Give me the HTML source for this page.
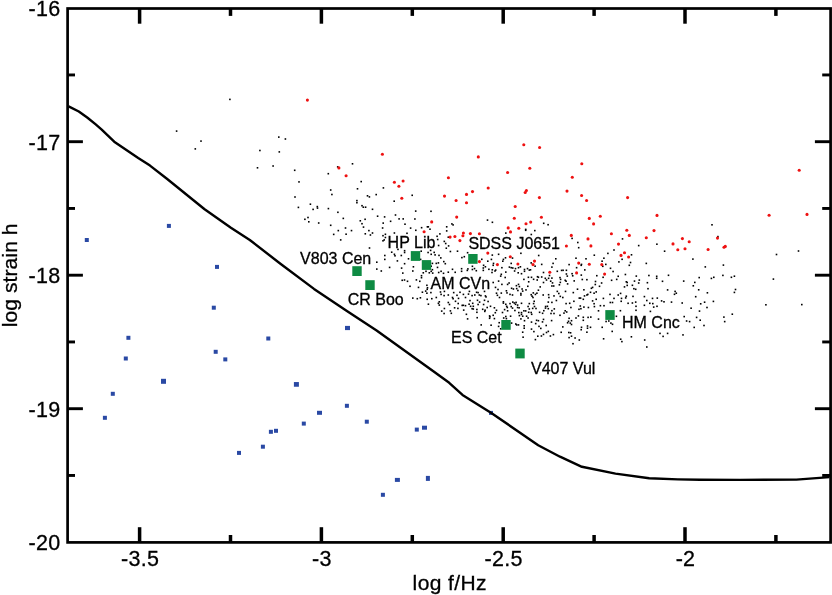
<!DOCTYPE html>
<html><head><meta charset="utf-8"><style>
html,body{margin:0;padding:0;background:#fff;}
body{width:832px;height:595px;overflow:hidden;}
svg{display:block;font-family:"Liberation Sans",Arial,sans-serif;}
text{fill:#000;stroke:#000;stroke-width:0.3px;}
</style></head><body>
<svg width="832" height="595" viewBox="0 0 832 595">
<rect x="67.6" y="8.5" width="763.00" height="533.90" fill="none" stroke="#000" stroke-width="2.7"/>
<line x1="139.60" y1="542.4" x2="139.60" y2="527.20" stroke="#000" stroke-width="3.5"/>
<line x1="139.60" y1="8.5" x2="139.60" y2="23.70" stroke="#000" stroke-width="3.5"/>
<line x1="230.50" y1="542.4" x2="230.50" y2="535.00" stroke="#000" stroke-width="3.5"/>
<line x1="230.50" y1="8.5" x2="230.50" y2="15.90" stroke="#000" stroke-width="3.5"/>
<line x1="321.40" y1="542.4" x2="321.40" y2="527.20" stroke="#000" stroke-width="3.5"/>
<line x1="321.40" y1="8.5" x2="321.40" y2="23.70" stroke="#000" stroke-width="3.5"/>
<line x1="412.30" y1="542.4" x2="412.30" y2="535.00" stroke="#000" stroke-width="3.5"/>
<line x1="412.30" y1="8.5" x2="412.30" y2="15.90" stroke="#000" stroke-width="3.5"/>
<line x1="503.20" y1="542.4" x2="503.20" y2="527.20" stroke="#000" stroke-width="3.5"/>
<line x1="503.20" y1="8.5" x2="503.20" y2="23.70" stroke="#000" stroke-width="3.5"/>
<line x1="594.10" y1="542.4" x2="594.10" y2="535.00" stroke="#000" stroke-width="3.5"/>
<line x1="594.10" y1="8.5" x2="594.10" y2="15.90" stroke="#000" stroke-width="3.5"/>
<line x1="685.00" y1="542.4" x2="685.00" y2="527.20" stroke="#000" stroke-width="3.5"/>
<line x1="685.00" y1="8.5" x2="685.00" y2="23.70" stroke="#000" stroke-width="3.5"/>
<line x1="775.90" y1="542.4" x2="775.90" y2="535.00" stroke="#000" stroke-width="3.5"/>
<line x1="775.90" y1="8.5" x2="775.90" y2="15.90" stroke="#000" stroke-width="3.5"/>
<line x1="67.6" y1="74.95" x2="75.00" y2="74.95" stroke="#000" stroke-width="2.9"/>
<line x1="830.6" y1="74.95" x2="822.20" y2="74.95" stroke="#000" stroke-width="2.9"/>
<line x1="67.6" y1="141.70" x2="82.90" y2="141.70" stroke="#000" stroke-width="2.9"/>
<line x1="830.6" y1="141.70" x2="814.90" y2="141.70" stroke="#000" stroke-width="2.9"/>
<line x1="67.6" y1="208.45" x2="75.00" y2="208.45" stroke="#000" stroke-width="2.9"/>
<line x1="830.6" y1="208.45" x2="822.20" y2="208.45" stroke="#000" stroke-width="2.9"/>
<line x1="67.6" y1="275.20" x2="82.90" y2="275.20" stroke="#000" stroke-width="2.9"/>
<line x1="830.6" y1="275.20" x2="814.90" y2="275.20" stroke="#000" stroke-width="2.9"/>
<line x1="67.6" y1="341.95" x2="75.00" y2="341.95" stroke="#000" stroke-width="2.9"/>
<line x1="830.6" y1="341.95" x2="822.20" y2="341.95" stroke="#000" stroke-width="2.9"/>
<line x1="67.6" y1="408.70" x2="82.90" y2="408.70" stroke="#000" stroke-width="2.9"/>
<line x1="830.6" y1="408.70" x2="814.90" y2="408.70" stroke="#000" stroke-width="2.9"/>
<line x1="67.6" y1="475.45" x2="75.00" y2="475.45" stroke="#000" stroke-width="2.9"/>
<line x1="830.6" y1="475.45" x2="822.20" y2="475.45" stroke="#000" stroke-width="2.9"/>
<text x="60.6" y="16.30" text-anchor="end" font-size="21.5" letter-spacing="0.3">-16</text>
<text x="60.6" y="149.80" text-anchor="end" font-size="21.5" letter-spacing="0.3">-17</text>
<text x="60.6" y="283.30" text-anchor="end" font-size="21.5" letter-spacing="0.3">-18</text>
<text x="60.6" y="416.80" text-anchor="end" font-size="21.5" letter-spacing="0.3">-19</text>
<text x="60.6" y="550.30" text-anchor="end" font-size="21.5" letter-spacing="0.3">-20</text>
<text x="140.10" y="566" text-anchor="middle" font-size="21.5" letter-spacing="0.3">-3.5</text>
<text x="321.90" y="566" text-anchor="middle" font-size="21.5" letter-spacing="0.3">-3</text>
<text x="503.70" y="566" text-anchor="middle" font-size="21.5" letter-spacing="0.3">-2.5</text>
<text x="685.50" y="566" text-anchor="middle" font-size="21.5" letter-spacing="0.3">-2</text>
<text x="412.6" y="590" font-size="21" letter-spacing="0.38">log f/Hz</text>
<text transform="translate(17,327.3) rotate(-90)" font-size="21" letter-spacing="0.1">log strain h</text>
<rect x="229.10" y="98.60" width="1.6" height="1.6" fill="#000"/>
<rect x="200.20" y="140.30" width="1.6" height="1.6" fill="#000"/>
<rect x="194.50" y="148.10" width="1.6" height="1.6" fill="#000"/>
<rect x="259.10" y="149.70" width="1.6" height="1.6" fill="#000"/>
<rect x="278.00" y="136.30" width="1.6" height="1.6" fill="#000"/>
<rect x="278.50" y="151.10" width="1.6" height="1.6" fill="#000"/>
<rect x="175.80" y="130.30" width="1.6" height="1.6" fill="#000"/>
<rect x="284.60" y="138.20" width="1.6" height="1.6" fill="#000"/>
<rect x="256.70" y="167.00" width="1.6" height="1.6" fill="#000"/>
<rect x="272.30" y="165.20" width="1.6" height="1.6" fill="#000"/>
<rect x="351.70" y="163.00" width="1.6" height="1.6" fill="#000"/>
<rect x="293.90" y="169.50" width="1.6" height="1.6" fill="#000"/>
<rect x="327.50" y="172.90" width="1.6" height="1.6" fill="#000"/>
<rect x="298.20" y="181.10" width="1.6" height="1.6" fill="#000"/>
<rect x="360.40" y="180.80" width="1.6" height="1.6" fill="#000"/>
<rect x="356.70" y="188.00" width="1.6" height="1.6" fill="#000"/>
<rect x="329.90" y="189.20" width="1.6" height="1.6" fill="#000"/>
<rect x="331.10" y="193.70" width="1.6" height="1.6" fill="#000"/>
<rect x="294.20" y="196.20" width="1.6" height="1.6" fill="#000"/>
<rect x="366.70" y="195.00" width="1.6" height="1.6" fill="#000"/>
<rect x="368.60" y="196.10" width="1.6" height="1.6" fill="#000"/>
<rect x="375.40" y="193.80" width="1.6" height="1.6" fill="#000"/>
<rect x="356.10" y="199.80" width="1.6" height="1.6" fill="#000"/>
<rect x="356.10" y="201.90" width="1.6" height="1.6" fill="#000"/>
<rect x="309.60" y="203.40" width="1.6" height="1.6" fill="#000"/>
<rect x="297.60" y="206.60" width="1.6" height="1.6" fill="#000"/>
<rect x="316.50" y="205.80" width="1.6" height="1.6" fill="#000"/>
<rect x="316.70" y="207.30" width="1.6" height="1.6" fill="#000"/>
<rect x="312.30" y="208.60" width="1.6" height="1.6" fill="#000"/>
<rect x="327.60" y="207.80" width="1.6" height="1.6" fill="#000"/>
<rect x="361.20" y="204.90" width="1.6" height="1.6" fill="#000"/>
<rect x="362.50" y="206.40" width="1.6" height="1.6" fill="#000"/>
<rect x="364.80" y="206.40" width="1.6" height="1.6" fill="#000"/>
<rect x="371.70" y="208.50" width="1.6" height="1.6" fill="#000"/>
<rect x="337.10" y="211.50" width="1.6" height="1.6" fill="#000"/>
<rect x="376.80" y="215.40" width="1.6" height="1.6" fill="#000"/>
<rect x="307.20" y="216.70" width="1.6" height="1.6" fill="#000"/>
<rect x="304.10" y="218.50" width="1.6" height="1.6" fill="#000"/>
<rect x="308.00" y="221.00" width="1.6" height="1.6" fill="#000"/>
<rect x="342.50" y="217.60" width="1.6" height="1.6" fill="#000"/>
<rect x="359.50" y="220.00" width="1.6" height="1.6" fill="#000"/>
<rect x="364.30" y="218.50" width="1.6" height="1.6" fill="#000"/>
<rect x="317.90" y="222.20" width="1.6" height="1.6" fill="#000"/>
<rect x="361.20" y="222.90" width="1.6" height="1.6" fill="#000"/>
<rect x="329.90" y="224.50" width="1.6" height="1.6" fill="#000"/>
<rect x="344.70" y="227.20" width="1.6" height="1.6" fill="#000"/>
<rect x="362.70" y="226.30" width="1.6" height="1.6" fill="#000"/>
<rect x="336.90" y="166.10" width="1.6" height="1.6" fill="#000"/>
<rect x="382.60" y="187.10" width="1.6" height="1.6" fill="#000"/>
<rect x="411.40" y="194.50" width="1.6" height="1.6" fill="#000"/>
<rect x="393.40" y="200.40" width="1.6" height="1.6" fill="#000"/>
<rect x="414.90" y="210.30" width="1.6" height="1.6" fill="#000"/>
<rect x="430.20" y="210.50" width="1.6" height="1.6" fill="#000"/>
<rect x="383.80" y="216.10" width="1.6" height="1.6" fill="#000"/>
<rect x="394.70" y="214.20" width="1.6" height="1.6" fill="#000"/>
<rect x="398.30" y="218.10" width="1.6" height="1.6" fill="#000"/>
<rect x="402.40" y="218.10" width="1.6" height="1.6" fill="#000"/>
<rect x="414.10" y="218.20" width="1.6" height="1.6" fill="#000"/>
<rect x="389.80" y="220.50" width="1.6" height="1.6" fill="#000"/>
<rect x="382.40" y="222.30" width="1.6" height="1.6" fill="#000"/>
<rect x="404.20" y="223.40" width="1.6" height="1.6" fill="#000"/>
<rect x="381.80" y="227.20" width="1.6" height="1.6" fill="#000"/>
<rect x="409.80" y="227.30" width="1.6" height="1.6" fill="#000"/>
<rect x="420.80" y="226.90" width="1.6" height="1.6" fill="#000"/>
<rect x="426.60" y="226.00" width="1.6" height="1.6" fill="#000"/>
<rect x="427.50" y="226.00" width="1.6" height="1.6" fill="#000"/>
<rect x="429.20" y="228.40" width="1.6" height="1.6" fill="#000"/>
<rect x="445.90" y="226.00" width="1.6" height="1.6" fill="#000"/>
<rect x="451.10" y="223.10" width="1.6" height="1.6" fill="#000"/>
<rect x="452.30" y="224.10" width="1.6" height="1.6" fill="#000"/>
<rect x="486.70" y="219.30" width="1.6" height="1.6" fill="#000"/>
<rect x="491.60" y="221.50" width="1.6" height="1.6" fill="#000"/>
<rect x="542.90" y="222.50" width="1.6" height="1.6" fill="#000"/>
<rect x="547.30" y="223.90" width="1.6" height="1.6" fill="#000"/>
<rect x="524.90" y="228.60" width="1.6" height="1.6" fill="#000"/>
<rect x="711.20" y="224.00" width="1.6" height="1.6" fill="#000"/>
<rect x="717.10" y="235.80" width="1.6" height="1.6" fill="#000"/>
<rect x="692.10" y="258.30" width="1.6" height="1.6" fill="#000"/>
<rect x="704.50" y="266.10" width="1.6" height="1.6" fill="#000"/>
<rect x="722.60" y="264.30" width="1.6" height="1.6" fill="#000"/>
<rect x="698.40" y="276.80" width="1.6" height="1.6" fill="#000"/>
<rect x="682.90" y="280.30" width="1.6" height="1.6" fill="#000"/>
<rect x="694.00" y="281.60" width="1.6" height="1.6" fill="#000"/>
<rect x="692.50" y="285.00" width="1.6" height="1.6" fill="#000"/>
<rect x="710.60" y="277.60" width="1.6" height="1.6" fill="#000"/>
<rect x="713.00" y="276.50" width="1.6" height="1.6" fill="#000"/>
<rect x="722.10" y="274.60" width="1.6" height="1.6" fill="#000"/>
<rect x="730.60" y="276.50" width="1.6" height="1.6" fill="#000"/>
<rect x="733.60" y="275.40" width="1.6" height="1.6" fill="#000"/>
<rect x="697.90" y="289.00" width="1.6" height="1.6" fill="#000"/>
<rect x="706.60" y="292.00" width="1.6" height="1.6" fill="#000"/>
<rect x="694.90" y="295.90" width="1.6" height="1.6" fill="#000"/>
<rect x="734.70" y="288.70" width="1.6" height="1.6" fill="#000"/>
<rect x="733.60" y="291.60" width="1.6" height="1.6" fill="#000"/>
<rect x="775.70" y="253.70" width="1.6" height="1.6" fill="#000"/>
<rect x="797.70" y="250.20" width="1.6" height="1.6" fill="#000"/>
<rect x="772.60" y="278.30" width="1.6" height="1.6" fill="#000"/>
<rect x="337.50" y="229.80" width="1.6" height="1.6" fill="#000"/>
<rect x="350.70" y="229.80" width="1.6" height="1.6" fill="#000"/>
<rect x="368.10" y="229.80" width="1.6" height="1.6" fill="#000"/>
<rect x="332.90" y="233.60" width="1.6" height="1.6" fill="#000"/>
<rect x="345.30" y="233.40" width="1.6" height="1.6" fill="#000"/>
<rect x="364.50" y="233.00" width="1.6" height="1.6" fill="#000"/>
<rect x="369.60" y="234.20" width="1.6" height="1.6" fill="#000"/>
<rect x="371.70" y="232.20" width="1.6" height="1.6" fill="#000"/>
<rect x="339.90" y="239.10" width="1.6" height="1.6" fill="#000"/>
<rect x="368.70" y="247.20" width="1.6" height="1.6" fill="#000"/>
<rect x="376.00" y="261.40" width="1.6" height="1.6" fill="#000"/>
<rect x="376.00" y="268.30" width="1.6" height="1.6" fill="#000"/>
<rect x="415.00" y="229.50" width="1.6" height="1.6" fill="#000"/>
<rect x="393.60" y="232.20" width="1.6" height="1.6" fill="#000"/>
<rect x="406.20" y="232.50" width="1.6" height="1.6" fill="#000"/>
<rect x="384.60" y="233.50" width="1.6" height="1.6" fill="#000"/>
<rect x="382.20" y="234.90" width="1.6" height="1.6" fill="#000"/>
<rect x="384.60" y="236.70" width="1.6" height="1.6" fill="#000"/>
<rect x="383.40" y="239.10" width="1.6" height="1.6" fill="#000"/>
<rect x="382.20" y="240.00" width="1.6" height="1.6" fill="#000"/>
<rect x="397.20" y="248.60" width="1.6" height="1.6" fill="#000"/>
<rect x="403.80" y="249.90" width="1.6" height="1.6" fill="#000"/>
<rect x="403.80" y="251.70" width="1.6" height="1.6" fill="#000"/>
<rect x="390.90" y="251.40" width="1.6" height="1.6" fill="#000"/>
<rect x="393.60" y="253.50" width="1.6" height="1.6" fill="#000"/>
<rect x="394.20" y="255.00" width="1.6" height="1.6" fill="#000"/>
<rect x="400.50" y="254.70" width="1.6" height="1.6" fill="#000"/>
<rect x="384.00" y="254.70" width="1.6" height="1.6" fill="#000"/>
<rect x="384.00" y="258.60" width="1.6" height="1.6" fill="#000"/>
<rect x="407.70" y="258.00" width="1.6" height="1.6" fill="#000"/>
<rect x="396.60" y="260.10" width="1.6" height="1.6" fill="#000"/>
<rect x="403.80" y="262.90" width="1.6" height="1.6" fill="#000"/>
<rect x="420.40" y="250.40" width="1.6" height="1.6" fill="#000"/>
<rect x="427.30" y="251.70" width="1.6" height="1.6" fill="#000"/>
<rect x="419.80" y="258.60" width="1.6" height="1.6" fill="#000"/>
<rect x="445.90" y="230.10" width="1.6" height="1.6" fill="#000"/>
<rect x="439.10" y="233.10" width="1.6" height="1.6" fill="#000"/>
<rect x="436.30" y="235.50" width="1.6" height="1.6" fill="#000"/>
<rect x="436.90" y="238.70" width="1.6" height="1.6" fill="#000"/>
<rect x="447.50" y="236.40" width="1.6" height="1.6" fill="#000"/>
<rect x="443.50" y="240.60" width="1.6" height="1.6" fill="#000"/>
<rect x="444.90" y="242.70" width="1.6" height="1.6" fill="#000"/>
<rect x="437.80" y="244.70" width="1.6" height="1.6" fill="#000"/>
<rect x="447.80" y="245.10" width="1.6" height="1.6" fill="#000"/>
<rect x="445.50" y="247.40" width="1.6" height="1.6" fill="#000"/>
<rect x="449.60" y="250.70" width="1.6" height="1.6" fill="#000"/>
<rect x="456.70" y="250.40" width="1.6" height="1.6" fill="#000"/>
<rect x="466.80" y="251.90" width="1.6" height="1.6" fill="#000"/>
<rect x="429.80" y="249.60" width="1.6" height="1.6" fill="#000"/>
<rect x="433.40" y="251.60" width="1.6" height="1.6" fill="#000"/>
<rect x="430.40" y="253.50" width="1.6" height="1.6" fill="#000"/>
<rect x="434.30" y="254.10" width="1.6" height="1.6" fill="#000"/>
<rect x="438.20" y="254.60" width="1.6" height="1.6" fill="#000"/>
<rect x="440.00" y="257.10" width="1.6" height="1.6" fill="#000"/>
<rect x="461.10" y="256.80" width="1.6" height="1.6" fill="#000"/>
<rect x="463.50" y="255.90" width="1.6" height="1.6" fill="#000"/>
<rect x="431.60" y="262.60" width="1.6" height="1.6" fill="#000"/>
<rect x="435.50" y="262.60" width="1.6" height="1.6" fill="#000"/>
<rect x="437.60" y="262.10" width="1.6" height="1.6" fill="#000"/>
<rect x="443.00" y="260.80" width="1.6" height="1.6" fill="#000"/>
<rect x="444.50" y="262.90" width="1.6" height="1.6" fill="#000"/>
<rect x="505.00" y="232.30" width="1.6" height="1.6" fill="#000"/>
<rect x="524.90" y="229.50" width="1.6" height="1.6" fill="#000"/>
<rect x="491.50" y="254.30" width="1.6" height="1.6" fill="#000"/>
<rect x="497.80" y="253.50" width="1.6" height="1.6" fill="#000"/>
<rect x="520.10" y="252.50" width="1.6" height="1.6" fill="#000"/>
<rect x="481.00" y="258.50" width="1.6" height="1.6" fill="#000"/>
<rect x="490.60" y="258.60" width="1.6" height="1.6" fill="#000"/>
<rect x="487.00" y="260.40" width="1.6" height="1.6" fill="#000"/>
<rect x="502.60" y="258.60" width="1.6" height="1.6" fill="#000"/>
<rect x="504.70" y="257.00" width="1.6" height="1.6" fill="#000"/>
<rect x="502.00" y="260.40" width="1.6" height="1.6" fill="#000"/>
<rect x="511.70" y="257.30" width="1.6" height="1.6" fill="#000"/>
<rect x="492.70" y="262.60" width="1.6" height="1.6" fill="#000"/>
<rect x="510.40" y="262.60" width="1.6" height="1.6" fill="#000"/>
<rect x="534.00" y="229.80" width="1.6" height="1.6" fill="#000"/>
<rect x="530.50" y="233.70" width="1.6" height="1.6" fill="#000"/>
<rect x="571.30" y="237.60" width="1.6" height="1.6" fill="#000"/>
<rect x="577.00" y="241.70" width="1.6" height="1.6" fill="#000"/>
<rect x="577.90" y="246.90" width="1.6" height="1.6" fill="#000"/>
<rect x="537.90" y="254.70" width="1.6" height="1.6" fill="#000"/>
<rect x="555.00" y="258.00" width="1.6" height="1.6" fill="#000"/>
<rect x="575.20" y="257.40" width="1.6" height="1.6" fill="#000"/>
<rect x="530.40" y="262.10" width="1.6" height="1.6" fill="#000"/>
<rect x="540.90" y="263.60" width="1.6" height="1.6" fill="#000"/>
<rect x="552.30" y="262.60" width="1.6" height="1.6" fill="#000"/>
<rect x="568.30" y="263.80" width="1.6" height="1.6" fill="#000"/>
<rect x="621.70" y="238.10" width="1.6" height="1.6" fill="#000"/>
<rect x="613.20" y="249.20" width="1.6" height="1.6" fill="#000"/>
<rect x="607.10" y="252.60" width="1.6" height="1.6" fill="#000"/>
<rect x="593.50" y="254.40" width="1.6" height="1.6" fill="#000"/>
<rect x="585.20" y="258.00" width="1.6" height="1.6" fill="#000"/>
<rect x="603.10" y="257.40" width="1.6" height="1.6" fill="#000"/>
<rect x="601.30" y="260.40" width="1.6" height="1.6" fill="#000"/>
<rect x="621.30" y="258.50" width="1.6" height="1.6" fill="#000"/>
<rect x="618.10" y="261.10" width="1.6" height="1.6" fill="#000"/>
<rect x="605.00" y="263.60" width="1.6" height="1.6" fill="#000"/>
<rect x="580.70" y="263.60" width="1.6" height="1.6" fill="#000"/>
<rect x="637.90" y="244.80" width="1.6" height="1.6" fill="#000"/>
<rect x="656.10" y="243.40" width="1.6" height="1.6" fill="#000"/>
<rect x="663.80" y="250.40" width="1.6" height="1.6" fill="#000"/>
<rect x="630.70" y="254.00" width="1.6" height="1.6" fill="#000"/>
<rect x="629.70" y="261.70" width="1.6" height="1.6" fill="#000"/>
<rect x="645.50" y="262.60" width="1.6" height="1.6" fill="#000"/>
<rect x="388.80" y="266.60" width="1.6" height="1.6" fill="#000"/>
<rect x="380.50" y="270.20" width="1.6" height="1.6" fill="#000"/>
<rect x="400.80" y="267.30" width="1.6" height="1.6" fill="#000"/>
<rect x="412.60" y="266.00" width="1.6" height="1.6" fill="#000"/>
<rect x="412.00" y="270.20" width="1.6" height="1.6" fill="#000"/>
<rect x="402.00" y="272.30" width="1.6" height="1.6" fill="#000"/>
<rect x="422.50" y="272.00" width="1.6" height="1.6" fill="#000"/>
<rect x="425.20" y="270.50" width="1.6" height="1.6" fill="#000"/>
<rect x="428.50" y="272.00" width="1.6" height="1.6" fill="#000"/>
<rect x="420.70" y="274.90" width="1.6" height="1.6" fill="#000"/>
<rect x="420.70" y="276.90" width="1.6" height="1.6" fill="#000"/>
<rect x="401.40" y="279.50" width="1.6" height="1.6" fill="#000"/>
<rect x="403.70" y="279.20" width="1.6" height="1.6" fill="#000"/>
<rect x="406.70" y="280.50" width="1.6" height="1.6" fill="#000"/>
<rect x="415.60" y="279.10" width="1.6" height="1.6" fill="#000"/>
<rect x="419.00" y="280.50" width="1.6" height="1.6" fill="#000"/>
<rect x="409.20" y="285.50" width="1.6" height="1.6" fill="#000"/>
<rect x="417.70" y="286.60" width="1.6" height="1.6" fill="#000"/>
<rect x="426.10" y="284.50" width="1.6" height="1.6" fill="#000"/>
<rect x="426.70" y="287.00" width="1.6" height="1.6" fill="#000"/>
<rect x="426.40" y="288.50" width="1.6" height="1.6" fill="#000"/>
<rect x="424.90" y="290.30" width="1.6" height="1.6" fill="#000"/>
<rect x="421.60" y="291.40" width="1.6" height="1.6" fill="#000"/>
<rect x="426.10" y="292.40" width="1.6" height="1.6" fill="#000"/>
<rect x="412.00" y="297.30" width="1.6" height="1.6" fill="#000"/>
<rect x="416.50" y="297.90" width="1.6" height="1.6" fill="#000"/>
<rect x="419.60" y="297.00" width="1.6" height="1.6" fill="#000"/>
<rect x="426.40" y="298.50" width="1.6" height="1.6" fill="#000"/>
<rect x="430.40" y="265.40" width="1.6" height="1.6" fill="#000"/>
<rect x="436.70" y="266.60" width="1.6" height="1.6" fill="#000"/>
<rect x="431.60" y="268.90" width="1.6" height="1.6" fill="#000"/>
<rect x="430.40" y="270.50" width="1.6" height="1.6" fill="#000"/>
<rect x="431.90" y="272.30" width="1.6" height="1.6" fill="#000"/>
<rect x="437.90" y="271.70" width="1.6" height="1.6" fill="#000"/>
<rect x="440.30" y="270.50" width="1.6" height="1.6" fill="#000"/>
<rect x="442.70" y="272.50" width="1.6" height="1.6" fill="#000"/>
<rect x="447.50" y="271.40" width="1.6" height="1.6" fill="#000"/>
<rect x="451.70" y="268.50" width="1.6" height="1.6" fill="#000"/>
<rect x="454.40" y="271.50" width="1.6" height="1.6" fill="#000"/>
<rect x="460.80" y="267.90" width="1.6" height="1.6" fill="#000"/>
<rect x="460.80" y="270.50" width="1.6" height="1.6" fill="#000"/>
<rect x="467.10" y="268.10" width="1.6" height="1.6" fill="#000"/>
<rect x="466.50" y="269.60" width="1.6" height="1.6" fill="#000"/>
<rect x="471.60" y="265.50" width="1.6" height="1.6" fill="#000"/>
<rect x="471.60" y="268.70" width="1.6" height="1.6" fill="#000"/>
<rect x="473.70" y="267.80" width="1.6" height="1.6" fill="#000"/>
<rect x="475.50" y="269.90" width="1.6" height="1.6" fill="#000"/>
<rect x="430.10" y="291.80" width="1.6" height="1.6" fill="#000"/>
<rect x="439.70" y="291.20" width="1.6" height="1.6" fill="#000"/>
<rect x="443.60" y="290.60" width="1.6" height="1.6" fill="#000"/>
<rect x="440.30" y="293.60" width="1.6" height="1.6" fill="#000"/>
<rect x="443.30" y="294.80" width="1.6" height="1.6" fill="#000"/>
<rect x="447.50" y="294.20" width="1.6" height="1.6" fill="#000"/>
<rect x="452.90" y="291.80" width="1.6" height="1.6" fill="#000"/>
<rect x="459.20" y="291.50" width="1.6" height="1.6" fill="#000"/>
<rect x="456.20" y="294.50" width="1.6" height="1.6" fill="#000"/>
<rect x="462.60" y="293.60" width="1.6" height="1.6" fill="#000"/>
<rect x="468.60" y="290.60" width="1.6" height="1.6" fill="#000"/>
<rect x="467.70" y="293.30" width="1.6" height="1.6" fill="#000"/>
<rect x="471.30" y="294.80" width="1.6" height="1.6" fill="#000"/>
<rect x="474.00" y="294.20" width="1.6" height="1.6" fill="#000"/>
<rect x="475.80" y="291.50" width="1.6" height="1.6" fill="#000"/>
<rect x="477.30" y="291.80" width="1.6" height="1.6" fill="#000"/>
<rect x="478.50" y="294.20" width="1.6" height="1.6" fill="#000"/>
<rect x="435.50" y="296.70" width="1.6" height="1.6" fill="#000"/>
<rect x="451.70" y="296.70" width="1.6" height="1.6" fill="#000"/>
<rect x="452.30" y="297.90" width="1.6" height="1.6" fill="#000"/>
<rect x="431.00" y="297.90" width="1.6" height="1.6" fill="#000"/>
<rect x="457.70" y="297.60" width="1.6" height="1.6" fill="#000"/>
<rect x="464.70" y="296.70" width="1.6" height="1.6" fill="#000"/>
<rect x="482.80" y="264.50" width="1.6" height="1.6" fill="#000"/>
<rect x="484.60" y="266.00" width="1.6" height="1.6" fill="#000"/>
<rect x="482.50" y="267.20" width="1.6" height="1.6" fill="#000"/>
<rect x="482.50" y="269.60" width="1.6" height="1.6" fill="#000"/>
<rect x="488.10" y="268.50" width="1.6" height="1.6" fill="#000"/>
<rect x="491.50" y="269.00" width="1.6" height="1.6" fill="#000"/>
<rect x="494.90" y="269.30" width="1.6" height="1.6" fill="#000"/>
<rect x="494.20" y="270.20" width="1.6" height="1.6" fill="#000"/>
<rect x="491.20" y="271.70" width="1.6" height="1.6" fill="#000"/>
<rect x="492.40" y="264.50" width="1.6" height="1.6" fill="#000"/>
<rect x="501.10" y="266.90" width="1.6" height="1.6" fill="#000"/>
<rect x="505.00" y="271.30" width="1.6" height="1.6" fill="#000"/>
<rect x="508.60" y="266.30" width="1.6" height="1.6" fill="#000"/>
<rect x="510.40" y="266.90" width="1.6" height="1.6" fill="#000"/>
<rect x="512.00" y="267.20" width="1.6" height="1.6" fill="#000"/>
<rect x="514.70" y="267.80" width="1.6" height="1.6" fill="#000"/>
<rect x="513.80" y="270.20" width="1.6" height="1.6" fill="#000"/>
<rect x="517.70" y="266.90" width="1.6" height="1.6" fill="#000"/>
<rect x="519.60" y="266.00" width="1.6" height="1.6" fill="#000"/>
<rect x="517.40" y="272.00" width="1.6" height="1.6" fill="#000"/>
<rect x="520.70" y="272.90" width="1.6" height="1.6" fill="#000"/>
<rect x="523.70" y="268.70" width="1.6" height="1.6" fill="#000"/>
<rect x="523.70" y="270.50" width="1.6" height="1.6" fill="#000"/>
<rect x="526.70" y="267.80" width="1.6" height="1.6" fill="#000"/>
<rect x="528.50" y="269.30" width="1.6" height="1.6" fill="#000"/>
<rect x="500.50" y="273.50" width="1.6" height="1.6" fill="#000"/>
<rect x="499.90" y="275.30" width="1.6" height="1.6" fill="#000"/>
<rect x="504.40" y="276.70" width="1.6" height="1.6" fill="#000"/>
<rect x="527.60" y="276.50" width="1.6" height="1.6" fill="#000"/>
<rect x="523.10" y="278.60" width="1.6" height="1.6" fill="#000"/>
<rect x="527.90" y="281.00" width="1.6" height="1.6" fill="#000"/>
<rect x="497.80" y="280.30" width="1.6" height="1.6" fill="#000"/>
<rect x="492.40" y="281.70" width="1.6" height="1.6" fill="#000"/>
<rect x="501.10" y="283.60" width="1.6" height="1.6" fill="#000"/>
<rect x="506.80" y="283.60" width="1.6" height="1.6" fill="#000"/>
<rect x="508.30" y="282.20" width="1.6" height="1.6" fill="#000"/>
<rect x="494.70" y="286.60" width="1.6" height="1.6" fill="#000"/>
<rect x="497.20" y="288.70" width="1.6" height="1.6" fill="#000"/>
<rect x="515.60" y="284.90" width="1.6" height="1.6" fill="#000"/>
<rect x="517.70" y="283.60" width="1.6" height="1.6" fill="#000"/>
<rect x="518.60" y="285.80" width="1.6" height="1.6" fill="#000"/>
<rect x="527.00" y="285.50" width="1.6" height="1.6" fill="#000"/>
<rect x="510.80" y="287.50" width="1.6" height="1.6" fill="#000"/>
<rect x="512.60" y="288.20" width="1.6" height="1.6" fill="#000"/>
<rect x="515.90" y="287.80" width="1.6" height="1.6" fill="#000"/>
<rect x="517.10" y="289.70" width="1.6" height="1.6" fill="#000"/>
<rect x="521.30" y="288.20" width="1.6" height="1.6" fill="#000"/>
<rect x="525.20" y="289.10" width="1.6" height="1.6" fill="#000"/>
<rect x="521.90" y="290.30" width="1.6" height="1.6" fill="#000"/>
<rect x="505.60" y="290.00" width="1.6" height="1.6" fill="#000"/>
<rect x="506.20" y="292.10" width="1.6" height="1.6" fill="#000"/>
<rect x="509.20" y="293.60" width="1.6" height="1.6" fill="#000"/>
<rect x="511.70" y="294.20" width="1.6" height="1.6" fill="#000"/>
<rect x="520.10" y="292.70" width="1.6" height="1.6" fill="#000"/>
<rect x="520.10" y="294.20" width="1.6" height="1.6" fill="#000"/>
<rect x="483.70" y="290.60" width="1.6" height="1.6" fill="#000"/>
<rect x="495.70" y="292.40" width="1.6" height="1.6" fill="#000"/>
<rect x="496.60" y="294.50" width="1.6" height="1.6" fill="#000"/>
<rect x="500.50" y="292.30" width="1.6" height="1.6" fill="#000"/>
<rect x="498.70" y="296.70" width="1.6" height="1.6" fill="#000"/>
<rect x="480.10" y="294.80" width="1.6" height="1.6" fill="#000"/>
<rect x="484.60" y="295.10" width="1.6" height="1.6" fill="#000"/>
<rect x="485.20" y="296.10" width="1.6" height="1.6" fill="#000"/>
<rect x="534.30" y="265.40" width="1.6" height="1.6" fill="#000"/>
<rect x="551.10" y="266.30" width="1.6" height="1.6" fill="#000"/>
<rect x="575.80" y="266.90" width="1.6" height="1.6" fill="#000"/>
<rect x="529.70" y="269.00" width="1.6" height="1.6" fill="#000"/>
<rect x="542.70" y="271.70" width="1.6" height="1.6" fill="#000"/>
<rect x="556.50" y="270.50" width="1.6" height="1.6" fill="#000"/>
<rect x="560.80" y="269.60" width="1.6" height="1.6" fill="#000"/>
<rect x="562.30" y="269.50" width="1.6" height="1.6" fill="#000"/>
<rect x="565.60" y="269.50" width="1.6" height="1.6" fill="#000"/>
<rect x="565.60" y="273.20" width="1.6" height="1.6" fill="#000"/>
<rect x="566.50" y="275.30" width="1.6" height="1.6" fill="#000"/>
<rect x="571.30" y="272.90" width="1.6" height="1.6" fill="#000"/>
<rect x="571.90" y="275.00" width="1.6" height="1.6" fill="#000"/>
<rect x="548.70" y="274.70" width="1.6" height="1.6" fill="#000"/>
<rect x="530.70" y="276.50" width="1.6" height="1.6" fill="#000"/>
<rect x="532.80" y="278.50" width="1.6" height="1.6" fill="#000"/>
<rect x="536.70" y="275.90" width="1.6" height="1.6" fill="#000"/>
<rect x="537.60" y="276.50" width="1.6" height="1.6" fill="#000"/>
<rect x="540.90" y="276.20" width="1.6" height="1.6" fill="#000"/>
<rect x="536.40" y="279.20" width="1.6" height="1.6" fill="#000"/>
<rect x="544.50" y="277.50" width="1.6" height="1.6" fill="#000"/>
<rect x="545.70" y="279.20" width="1.6" height="1.6" fill="#000"/>
<rect x="547.80" y="277.50" width="1.6" height="1.6" fill="#000"/>
<rect x="551.10" y="277.30" width="1.6" height="1.6" fill="#000"/>
<rect x="549.90" y="280.40" width="1.6" height="1.6" fill="#000"/>
<rect x="551.70" y="282.10" width="1.6" height="1.6" fill="#000"/>
<rect x="542.70" y="281.70" width="1.6" height="1.6" fill="#000"/>
<rect x="559.20" y="276.80" width="1.6" height="1.6" fill="#000"/>
<rect x="559.80" y="278.60" width="1.6" height="1.6" fill="#000"/>
<rect x="559.50" y="281.60" width="1.6" height="1.6" fill="#000"/>
<rect x="558.60" y="284.00" width="1.6" height="1.6" fill="#000"/>
<rect x="564.40" y="279.50" width="1.6" height="1.6" fill="#000"/>
<rect x="565.30" y="280.40" width="1.6" height="1.6" fill="#000"/>
<rect x="566.80" y="283.10" width="1.6" height="1.6" fill="#000"/>
<rect x="573.40" y="280.10" width="1.6" height="1.6" fill="#000"/>
<rect x="551.10" y="285.20" width="1.6" height="1.6" fill="#000"/>
<rect x="552.90" y="285.20" width="1.6" height="1.6" fill="#000"/>
<rect x="539.40" y="286.10" width="1.6" height="1.6" fill="#000"/>
<rect x="537.60" y="289.40" width="1.6" height="1.6" fill="#000"/>
<rect x="576.70" y="288.40" width="1.6" height="1.6" fill="#000"/>
<rect x="556.50" y="290.60" width="1.6" height="1.6" fill="#000"/>
<rect x="558.00" y="292.70" width="1.6" height="1.6" fill="#000"/>
<rect x="564.70" y="290.60" width="1.6" height="1.6" fill="#000"/>
<rect x="572.50" y="291.80" width="1.6" height="1.6" fill="#000"/>
<rect x="532.50" y="292.10" width="1.6" height="1.6" fill="#000"/>
<rect x="534.60" y="293.60" width="1.6" height="1.6" fill="#000"/>
<rect x="536.10" y="292.40" width="1.6" height="1.6" fill="#000"/>
<rect x="530.40" y="293.90" width="1.6" height="1.6" fill="#000"/>
<rect x="531.30" y="295.40" width="1.6" height="1.6" fill="#000"/>
<rect x="532.20" y="296.70" width="1.6" height="1.6" fill="#000"/>
<rect x="542.40" y="294.20" width="1.6" height="1.6" fill="#000"/>
<rect x="547.80" y="293.90" width="1.6" height="1.6" fill="#000"/>
<rect x="548.10" y="296.70" width="1.6" height="1.6" fill="#000"/>
<rect x="553.20" y="295.10" width="1.6" height="1.6" fill="#000"/>
<rect x="559.50" y="295.60" width="1.6" height="1.6" fill="#000"/>
<rect x="562.00" y="296.70" width="1.6" height="1.6" fill="#000"/>
<rect x="578.50" y="297.30" width="1.6" height="1.6" fill="#000"/>
<rect x="584.00" y="269.10" width="1.6" height="1.6" fill="#000"/>
<rect x="580.40" y="264.50" width="1.6" height="1.6" fill="#000"/>
<rect x="602.00" y="265.50" width="1.6" height="1.6" fill="#000"/>
<rect x="609.70" y="267.50" width="1.6" height="1.6" fill="#000"/>
<rect x="612.30" y="270.70" width="1.6" height="1.6" fill="#000"/>
<rect x="580.50" y="274.30" width="1.6" height="1.6" fill="#000"/>
<rect x="596.00" y="274.90" width="1.6" height="1.6" fill="#000"/>
<rect x="602.30" y="276.50" width="1.6" height="1.6" fill="#000"/>
<rect x="581.50" y="278.70" width="1.6" height="1.6" fill="#000"/>
<rect x="586.10" y="278.90" width="1.6" height="1.6" fill="#000"/>
<rect x="594.70" y="280.70" width="1.6" height="1.6" fill="#000"/>
<rect x="610.80" y="279.50" width="1.6" height="1.6" fill="#000"/>
<rect x="615.90" y="278.60" width="1.6" height="1.6" fill="#000"/>
<rect x="617.40" y="275.50" width="1.6" height="1.6" fill="#000"/>
<rect x="624.60" y="273.70" width="1.6" height="1.6" fill="#000"/>
<rect x="625.50" y="281.00" width="1.6" height="1.6" fill="#000"/>
<rect x="626.40" y="281.70" width="1.6" height="1.6" fill="#000"/>
<rect x="626.40" y="284.60" width="1.6" height="1.6" fill="#000"/>
<rect x="623.70" y="286.10" width="1.6" height="1.6" fill="#000"/>
<rect x="594.50" y="283.70" width="1.6" height="1.6" fill="#000"/>
<rect x="600.80" y="282.20" width="1.6" height="1.6" fill="#000"/>
<rect x="598.70" y="285.50" width="1.6" height="1.6" fill="#000"/>
<rect x="590.60" y="287.50" width="1.6" height="1.6" fill="#000"/>
<rect x="591.80" y="286.60" width="1.6" height="1.6" fill="#000"/>
<rect x="583.10" y="289.00" width="1.6" height="1.6" fill="#000"/>
<rect x="589.70" y="291.50" width="1.6" height="1.6" fill="#000"/>
<rect x="593.30" y="292.40" width="1.6" height="1.6" fill="#000"/>
<rect x="595.40" y="291.10" width="1.6" height="1.6" fill="#000"/>
<rect x="587.00" y="293.60" width="1.6" height="1.6" fill="#000"/>
<rect x="586.10" y="294.20" width="1.6" height="1.6" fill="#000"/>
<rect x="583.70" y="295.10" width="1.6" height="1.6" fill="#000"/>
<rect x="609.20" y="293.60" width="1.6" height="1.6" fill="#000"/>
<rect x="619.80" y="292.60" width="1.6" height="1.6" fill="#000"/>
<rect x="617.40" y="294.20" width="1.6" height="1.6" fill="#000"/>
<rect x="625.50" y="295.40" width="1.6" height="1.6" fill="#000"/>
<rect x="624.90" y="297.10" width="1.6" height="1.6" fill="#000"/>
<rect x="579.80" y="297.30" width="1.6" height="1.6" fill="#000"/>
<rect x="582.50" y="298.50" width="1.6" height="1.6" fill="#000"/>
<rect x="595.40" y="298.50" width="1.6" height="1.6" fill="#000"/>
<rect x="602.60" y="297.60" width="1.6" height="1.6" fill="#000"/>
<rect x="613.20" y="297.60" width="1.6" height="1.6" fill="#000"/>
<rect x="620.70" y="297.60" width="1.6" height="1.6" fill="#000"/>
<rect x="628.50" y="264.50" width="1.6" height="1.6" fill="#000"/>
<rect x="635.50" y="275.30" width="1.6" height="1.6" fill="#000"/>
<rect x="648.10" y="274.70" width="1.6" height="1.6" fill="#000"/>
<rect x="655.90" y="275.50" width="1.6" height="1.6" fill="#000"/>
<rect x="655.90" y="277.50" width="1.6" height="1.6" fill="#000"/>
<rect x="667.70" y="274.50" width="1.6" height="1.6" fill="#000"/>
<rect x="633.70" y="280.30" width="1.6" height="1.6" fill="#000"/>
<rect x="638.50" y="279.30" width="1.6" height="1.6" fill="#000"/>
<rect x="637.90" y="282.20" width="1.6" height="1.6" fill="#000"/>
<rect x="646.60" y="281.90" width="1.6" height="1.6" fill="#000"/>
<rect x="661.70" y="280.50" width="1.6" height="1.6" fill="#000"/>
<rect x="631.60" y="284.50" width="1.6" height="1.6" fill="#000"/>
<rect x="633.10" y="287.90" width="1.6" height="1.6" fill="#000"/>
<rect x="634.90" y="288.50" width="1.6" height="1.6" fill="#000"/>
<rect x="647.20" y="287.90" width="1.6" height="1.6" fill="#000"/>
<rect x="666.80" y="289.10" width="1.6" height="1.6" fill="#000"/>
<rect x="674.30" y="290.60" width="1.6" height="1.6" fill="#000"/>
<rect x="675.50" y="292.40" width="1.6" height="1.6" fill="#000"/>
<rect x="673.70" y="293.50" width="1.6" height="1.6" fill="#000"/>
<rect x="632.20" y="295.60" width="1.6" height="1.6" fill="#000"/>
<rect x="643.60" y="295.80" width="1.6" height="1.6" fill="#000"/>
<rect x="651.70" y="297.60" width="1.6" height="1.6" fill="#000"/>
<rect x="656.50" y="297.30" width="1.6" height="1.6" fill="#000"/>
<rect x="427.60" y="303.40" width="1.6" height="1.6" fill="#000"/>
<rect x="438.50" y="301.00" width="1.6" height="1.6" fill="#000"/>
<rect x="437.60" y="302.50" width="1.6" height="1.6" fill="#000"/>
<rect x="438.50" y="304.30" width="1.6" height="1.6" fill="#000"/>
<rect x="447.50" y="301.70" width="1.6" height="1.6" fill="#000"/>
<rect x="448.70" y="303.70" width="1.6" height="1.6" fill="#000"/>
<rect x="454.70" y="300.50" width="1.6" height="1.6" fill="#000"/>
<rect x="457.40" y="302.70" width="1.6" height="1.6" fill="#000"/>
<rect x="461.40" y="304.60" width="1.6" height="1.6" fill="#000"/>
<rect x="462.60" y="304.50" width="1.6" height="1.6" fill="#000"/>
<rect x="464.70" y="304.90" width="1.6" height="1.6" fill="#000"/>
<rect x="468.30" y="303.40" width="1.6" height="1.6" fill="#000"/>
<rect x="469.20" y="299.80" width="1.6" height="1.6" fill="#000"/>
<rect x="471.90" y="302.50" width="1.6" height="1.6" fill="#000"/>
<rect x="469.80" y="305.50" width="1.6" height="1.6" fill="#000"/>
<rect x="472.50" y="305.50" width="1.6" height="1.6" fill="#000"/>
<rect x="471.30" y="307.90" width="1.6" height="1.6" fill="#000"/>
<rect x="472.50" y="308.20" width="1.6" height="1.6" fill="#000"/>
<rect x="476.70" y="299.50" width="1.6" height="1.6" fill="#000"/>
<rect x="477.30" y="303.70" width="1.6" height="1.6" fill="#000"/>
<rect x="478.80" y="301.30" width="1.6" height="1.6" fill="#000"/>
<rect x="443.60" y="307.70" width="1.6" height="1.6" fill="#000"/>
<rect x="440.90" y="310.30" width="1.6" height="1.6" fill="#000"/>
<rect x="443.30" y="312.70" width="1.6" height="1.6" fill="#000"/>
<rect x="449.60" y="310.10" width="1.6" height="1.6" fill="#000"/>
<rect x="450.50" y="312.50" width="1.6" height="1.6" fill="#000"/>
<rect x="453.80" y="307.00" width="1.6" height="1.6" fill="#000"/>
<rect x="457.10" y="307.60" width="1.6" height="1.6" fill="#000"/>
<rect x="462.90" y="309.30" width="1.6" height="1.6" fill="#000"/>
<rect x="465.60" y="313.50" width="1.6" height="1.6" fill="#000"/>
<rect x="466.80" y="318.10" width="1.6" height="1.6" fill="#000"/>
<rect x="476.10" y="308.70" width="1.6" height="1.6" fill="#000"/>
<rect x="476.10" y="311.50" width="1.6" height="1.6" fill="#000"/>
<rect x="476.40" y="316.90" width="1.6" height="1.6" fill="#000"/>
<rect x="483.70" y="299.50" width="1.6" height="1.6" fill="#000"/>
<rect x="487.30" y="300.70" width="1.6" height="1.6" fill="#000"/>
<rect x="482.80" y="303.70" width="1.6" height="1.6" fill="#000"/>
<rect x="486.40" y="306.70" width="1.6" height="1.6" fill="#000"/>
<rect x="489.70" y="305.50" width="1.6" height="1.6" fill="#000"/>
<rect x="493.60" y="307.00" width="1.6" height="1.6" fill="#000"/>
<rect x="481.90" y="308.50" width="1.6" height="1.6" fill="#000"/>
<rect x="484.30" y="309.40" width="1.6" height="1.6" fill="#000"/>
<rect x="484.00" y="310.60" width="1.6" height="1.6" fill="#000"/>
<rect x="495.70" y="309.50" width="1.6" height="1.6" fill="#000"/>
<rect x="494.50" y="311.90" width="1.6" height="1.6" fill="#000"/>
<rect x="502.60" y="301.00" width="1.6" height="1.6" fill="#000"/>
<rect x="502.60" y="302.30" width="1.6" height="1.6" fill="#000"/>
<rect x="505.00" y="303.50" width="1.6" height="1.6" fill="#000"/>
<rect x="509.20" y="302.80" width="1.6" height="1.6" fill="#000"/>
<rect x="512.00" y="301.30" width="1.6" height="1.6" fill="#000"/>
<rect x="513.50" y="302.20" width="1.6" height="1.6" fill="#000"/>
<rect x="515.30" y="301.60" width="1.6" height="1.6" fill="#000"/>
<rect x="514.70" y="303.50" width="1.6" height="1.6" fill="#000"/>
<rect x="516.80" y="304.30" width="1.6" height="1.6" fill="#000"/>
<rect x="520.70" y="302.50" width="1.6" height="1.6" fill="#000"/>
<rect x="528.50" y="302.80" width="1.6" height="1.6" fill="#000"/>
<rect x="505.90" y="305.50" width="1.6" height="1.6" fill="#000"/>
<rect x="506.50" y="306.70" width="1.6" height="1.6" fill="#000"/>
<rect x="510.40" y="305.80" width="1.6" height="1.6" fill="#000"/>
<rect x="511.70" y="307.30" width="1.6" height="1.6" fill="#000"/>
<rect x="516.80" y="306.70" width="1.6" height="1.6" fill="#000"/>
<rect x="518.30" y="307.00" width="1.6" height="1.6" fill="#000"/>
<rect x="503.80" y="308.80" width="1.6" height="1.6" fill="#000"/>
<rect x="506.80" y="310.00" width="1.6" height="1.6" fill="#000"/>
<rect x="501.70" y="311.70" width="1.6" height="1.6" fill="#000"/>
<rect x="514.10" y="309.70" width="1.6" height="1.6" fill="#000"/>
<rect x="523.10" y="310.00" width="1.6" height="1.6" fill="#000"/>
<rect x="524.90" y="310.10" width="1.6" height="1.6" fill="#000"/>
<rect x="527.30" y="305.70" width="1.6" height="1.6" fill="#000"/>
<rect x="528.50" y="308.20" width="1.6" height="1.6" fill="#000"/>
<rect x="518.00" y="311.80" width="1.6" height="1.6" fill="#000"/>
<rect x="520.70" y="311.80" width="1.6" height="1.6" fill="#000"/>
<rect x="520.70" y="313.60" width="1.6" height="1.6" fill="#000"/>
<rect x="527.90" y="311.50" width="1.6" height="1.6" fill="#000"/>
<rect x="518.60" y="314.80" width="1.6" height="1.6" fill="#000"/>
<rect x="521.90" y="315.40" width="1.6" height="1.6" fill="#000"/>
<rect x="525.80" y="315.40" width="1.6" height="1.6" fill="#000"/>
<rect x="527.30" y="317.20" width="1.6" height="1.6" fill="#000"/>
<rect x="488.80" y="315.10" width="1.6" height="1.6" fill="#000"/>
<rect x="489.10" y="316.00" width="1.6" height="1.6" fill="#000"/>
<rect x="492.40" y="314.50" width="1.6" height="1.6" fill="#000"/>
<rect x="488.80" y="317.50" width="1.6" height="1.6" fill="#000"/>
<rect x="493.60" y="317.80" width="1.6" height="1.6" fill="#000"/>
<rect x="509.80" y="315.40" width="1.6" height="1.6" fill="#000"/>
<rect x="505.00" y="315.70" width="1.6" height="1.6" fill="#000"/>
<rect x="502.90" y="317.20" width="1.6" height="1.6" fill="#000"/>
<rect x="505.60" y="317.80" width="1.6" height="1.6" fill="#000"/>
<rect x="520.10" y="318.10" width="1.6" height="1.6" fill="#000"/>
<rect x="523.70" y="319.90" width="1.6" height="1.6" fill="#000"/>
<rect x="498.40" y="321.90" width="1.6" height="1.6" fill="#000"/>
<rect x="510.80" y="322.30" width="1.6" height="1.6" fill="#000"/>
<rect x="515.00" y="323.20" width="1.6" height="1.6" fill="#000"/>
<rect x="515.90" y="324.10" width="1.6" height="1.6" fill="#000"/>
<rect x="517.70" y="324.10" width="1.6" height="1.6" fill="#000"/>
<rect x="523.40" y="325.00" width="1.6" height="1.6" fill="#000"/>
<rect x="523.40" y="327.40" width="1.6" height="1.6" fill="#000"/>
<rect x="490.30" y="324.40" width="1.6" height="1.6" fill="#000"/>
<rect x="480.40" y="324.10" width="1.6" height="1.6" fill="#000"/>
<rect x="497.80" y="325.60" width="1.6" height="1.6" fill="#000"/>
<rect x="499.90" y="328.00" width="1.6" height="1.6" fill="#000"/>
<rect x="521.90" y="331.40" width="1.6" height="1.6" fill="#000"/>
<rect x="533.40" y="300.50" width="1.6" height="1.6" fill="#000"/>
<rect x="532.80" y="302.80" width="1.6" height="1.6" fill="#000"/>
<rect x="533.70" y="305.70" width="1.6" height="1.6" fill="#000"/>
<rect x="531.90" y="307.60" width="1.6" height="1.6" fill="#000"/>
<rect x="535.20" y="307.70" width="1.6" height="1.6" fill="#000"/>
<rect x="530.40" y="311.70" width="1.6" height="1.6" fill="#000"/>
<rect x="530.90" y="313.50" width="1.6" height="1.6" fill="#000"/>
<rect x="547.50" y="301.30" width="1.6" height="1.6" fill="#000"/>
<rect x="551.10" y="301.60" width="1.6" height="1.6" fill="#000"/>
<rect x="555.60" y="299.70" width="1.6" height="1.6" fill="#000"/>
<rect x="544.80" y="305.70" width="1.6" height="1.6" fill="#000"/>
<rect x="546.60" y="305.50" width="1.6" height="1.6" fill="#000"/>
<rect x="544.70" y="307.30" width="1.6" height="1.6" fill="#000"/>
<rect x="547.50" y="307.90" width="1.6" height="1.6" fill="#000"/>
<rect x="553.50" y="308.10" width="1.6" height="1.6" fill="#000"/>
<rect x="543.00" y="309.90" width="1.6" height="1.6" fill="#000"/>
<rect x="551.10" y="309.90" width="1.6" height="1.6" fill="#000"/>
<rect x="538.80" y="311.50" width="1.6" height="1.6" fill="#000"/>
<rect x="541.80" y="312.50" width="1.6" height="1.6" fill="#000"/>
<rect x="550.20" y="312.70" width="1.6" height="1.6" fill="#000"/>
<rect x="553.20" y="312.70" width="1.6" height="1.6" fill="#000"/>
<rect x="565.30" y="302.80" width="1.6" height="1.6" fill="#000"/>
<rect x="568.90" y="302.50" width="1.6" height="1.6" fill="#000"/>
<rect x="573.10" y="300.50" width="1.6" height="1.6" fill="#000"/>
<rect x="570.10" y="306.70" width="1.6" height="1.6" fill="#000"/>
<rect x="578.20" y="308.50" width="1.6" height="1.6" fill="#000"/>
<rect x="564.40" y="310.00" width="1.6" height="1.6" fill="#000"/>
<rect x="565.90" y="311.20" width="1.6" height="1.6" fill="#000"/>
<rect x="563.20" y="312.30" width="1.6" height="1.6" fill="#000"/>
<rect x="559.20" y="314.50" width="1.6" height="1.6" fill="#000"/>
<rect x="577.60" y="315.10" width="1.6" height="1.6" fill="#000"/>
<rect x="575.20" y="317.20" width="1.6" height="1.6" fill="#000"/>
<rect x="568.30" y="317.50" width="1.6" height="1.6" fill="#000"/>
<rect x="570.70" y="319.90" width="1.6" height="1.6" fill="#000"/>
<rect x="567.70" y="320.50" width="1.6" height="1.6" fill="#000"/>
<rect x="566.80" y="322.00" width="1.6" height="1.6" fill="#000"/>
<rect x="569.50" y="322.30" width="1.6" height="1.6" fill="#000"/>
<rect x="570.70" y="323.70" width="1.6" height="1.6" fill="#000"/>
<rect x="562.00" y="326.10" width="1.6" height="1.6" fill="#000"/>
<rect x="542.70" y="318.60" width="1.6" height="1.6" fill="#000"/>
<rect x="535.80" y="319.50" width="1.6" height="1.6" fill="#000"/>
<rect x="537.60" y="319.90" width="1.6" height="1.6" fill="#000"/>
<rect x="530.70" y="321.30" width="1.6" height="1.6" fill="#000"/>
<rect x="534.90" y="322.80" width="1.6" height="1.6" fill="#000"/>
<rect x="541.70" y="321.10" width="1.6" height="1.6" fill="#000"/>
<rect x="550.80" y="319.80" width="1.6" height="1.6" fill="#000"/>
<rect x="545.40" y="324.70" width="1.6" height="1.6" fill="#000"/>
<rect x="538.20" y="325.60" width="1.6" height="1.6" fill="#000"/>
<rect x="540.00" y="327.60" width="1.6" height="1.6" fill="#000"/>
<rect x="530.70" y="328.30" width="1.6" height="1.6" fill="#000"/>
<rect x="533.10" y="330.80" width="1.6" height="1.6" fill="#000"/>
<rect x="545.70" y="331.70" width="1.6" height="1.6" fill="#000"/>
<rect x="547.50" y="330.60" width="1.6" height="1.6" fill="#000"/>
<rect x="560.40" y="331.50" width="1.6" height="1.6" fill="#000"/>
<rect x="568.00" y="331.70" width="1.6" height="1.6" fill="#000"/>
<rect x="569.80" y="332.00" width="1.6" height="1.6" fill="#000"/>
<rect x="542.70" y="333.60" width="1.6" height="1.6" fill="#000"/>
<rect x="552.60" y="333.80" width="1.6" height="1.6" fill="#000"/>
<rect x="591.80" y="300.10" width="1.6" height="1.6" fill="#000"/>
<rect x="593.30" y="302.90" width="1.6" height="1.6" fill="#000"/>
<rect x="579.50" y="305.20" width="1.6" height="1.6" fill="#000"/>
<rect x="583.10" y="306.30" width="1.6" height="1.6" fill="#000"/>
<rect x="580.10" y="307.90" width="1.6" height="1.6" fill="#000"/>
<rect x="587.60" y="306.70" width="1.6" height="1.6" fill="#000"/>
<rect x="593.60" y="305.80" width="1.6" height="1.6" fill="#000"/>
<rect x="599.60" y="304.90" width="1.6" height="1.6" fill="#000"/>
<rect x="603.20" y="304.90" width="1.6" height="1.6" fill="#000"/>
<rect x="597.70" y="310.00" width="1.6" height="1.6" fill="#000"/>
<rect x="609.50" y="301.70" width="1.6" height="1.6" fill="#000"/>
<rect x="611.70" y="301.70" width="1.6" height="1.6" fill="#000"/>
<rect x="620.40" y="300.50" width="1.6" height="1.6" fill="#000"/>
<rect x="627.30" y="302.50" width="1.6" height="1.6" fill="#000"/>
<rect x="619.60" y="309.90" width="1.6" height="1.6" fill="#000"/>
<rect x="615.60" y="315.50" width="1.6" height="1.6" fill="#000"/>
<rect x="582.50" y="316.50" width="1.6" height="1.6" fill="#000"/>
<rect x="587.30" y="316.60" width="1.6" height="1.6" fill="#000"/>
<rect x="590.00" y="316.30" width="1.6" height="1.6" fill="#000"/>
<rect x="582.50" y="319.50" width="1.6" height="1.6" fill="#000"/>
<rect x="597.70" y="318.30" width="1.6" height="1.6" fill="#000"/>
<rect x="605.30" y="320.70" width="1.6" height="1.6" fill="#000"/>
<rect x="608.00" y="320.20" width="1.6" height="1.6" fill="#000"/>
<rect x="610.10" y="322.30" width="1.6" height="1.6" fill="#000"/>
<rect x="611.70" y="323.50" width="1.6" height="1.6" fill="#000"/>
<rect x="580.70" y="326.50" width="1.6" height="1.6" fill="#000"/>
<rect x="586.70" y="325.20" width="1.6" height="1.6" fill="#000"/>
<rect x="586.70" y="327.40" width="1.6" height="1.6" fill="#000"/>
<rect x="589.70" y="326.50" width="1.6" height="1.6" fill="#000"/>
<rect x="580.40" y="328.90" width="1.6" height="1.6" fill="#000"/>
<rect x="601.40" y="326.50" width="1.6" height="1.6" fill="#000"/>
<rect x="586.10" y="331.40" width="1.6" height="1.6" fill="#000"/>
<rect x="611.40" y="330.60" width="1.6" height="1.6" fill="#000"/>
<rect x="631.60" y="302.20" width="1.6" height="1.6" fill="#000"/>
<rect x="634.90" y="301.30" width="1.6" height="1.6" fill="#000"/>
<rect x="635.20" y="305.50" width="1.6" height="1.6" fill="#000"/>
<rect x="635.20" y="309.50" width="1.6" height="1.6" fill="#000"/>
<rect x="643.60" y="304.50" width="1.6" height="1.6" fill="#000"/>
<rect x="646.00" y="299.70" width="1.6" height="1.6" fill="#000"/>
<rect x="649.00" y="302.50" width="1.6" height="1.6" fill="#000"/>
<rect x="652.00" y="302.80" width="1.6" height="1.6" fill="#000"/>
<rect x="652.90" y="306.30" width="1.6" height="1.6" fill="#000"/>
<rect x="656.20" y="305.50" width="1.6" height="1.6" fill="#000"/>
<rect x="649.60" y="310.60" width="1.6" height="1.6" fill="#000"/>
<rect x="660.80" y="300.10" width="1.6" height="1.6" fill="#000"/>
<rect x="663.20" y="301.00" width="1.6" height="1.6" fill="#000"/>
<rect x="670.70" y="301.30" width="1.6" height="1.6" fill="#000"/>
<rect x="659.20" y="332.60" width="1.6" height="1.6" fill="#000"/>
<rect x="666.80" y="332.60" width="1.6" height="1.6" fill="#000"/>
<rect x="681.40" y="302.20" width="1.6" height="1.6" fill="#000"/>
<rect x="699.90" y="303.00" width="1.6" height="1.6" fill="#000"/>
<rect x="703.80" y="301.40" width="1.6" height="1.6" fill="#000"/>
<rect x="712.60" y="300.60" width="1.6" height="1.6" fill="#000"/>
<rect x="690.30" y="307.40" width="1.6" height="1.6" fill="#000"/>
<rect x="706.20" y="306.70" width="1.6" height="1.6" fill="#000"/>
<rect x="698.70" y="310.30" width="1.6" height="1.6" fill="#000"/>
<rect x="683.40" y="315.80" width="1.6" height="1.6" fill="#000"/>
<rect x="695.80" y="316.60" width="1.6" height="1.6" fill="#000"/>
<rect x="699.40" y="319.40" width="1.6" height="1.6" fill="#000"/>
<rect x="685.80" y="320.20" width="1.6" height="1.6" fill="#000"/>
<rect x="688.80" y="320.80" width="1.6" height="1.6" fill="#000"/>
<rect x="703.20" y="324.70" width="1.6" height="1.6" fill="#000"/>
<rect x="693.40" y="326.60" width="1.6" height="1.6" fill="#000"/>
<rect x="682.20" y="334.10" width="1.6" height="1.6" fill="#000"/>
<rect x="723.10" y="316.30" width="1.6" height="1.6" fill="#000"/>
<rect x="723.90" y="320.80" width="1.6" height="1.6" fill="#000"/>
<rect x="731.50" y="313.40" width="1.6" height="1.6" fill="#000"/>
<rect x="765.10" y="304.00" width="1.6" height="1.6" fill="#000"/>
<rect x="522.30" y="336.40" width="1.6" height="1.6" fill="#000"/>
<rect x="534.60" y="338.80" width="1.6" height="1.6" fill="#000"/>
<rect x="537.00" y="335.40" width="1.6" height="1.6" fill="#000"/>
<rect x="540.60" y="335.20" width="1.6" height="1.6" fill="#000"/>
<rect x="549.60" y="335.20" width="1.6" height="1.6" fill="#000"/>
<rect x="568.30" y="336.80" width="1.6" height="1.6" fill="#000"/>
<rect x="570.70" y="335.40" width="1.6" height="1.6" fill="#000"/>
<rect x="574.30" y="337.20" width="1.6" height="1.6" fill="#000"/>
<rect x="578.50" y="339.20" width="1.6" height="1.6" fill="#000"/>
<rect x="572.20" y="342.90" width="1.6" height="1.6" fill="#000"/>
<rect x="602.80" y="338.00" width="1.6" height="1.6" fill="#000"/>
<rect x="619.90" y="338.40" width="1.6" height="1.6" fill="#000"/>
<rect x="621.10" y="340.80" width="1.6" height="1.6" fill="#000"/>
<rect x="630.60" y="336.00" width="1.6" height="1.6" fill="#000"/>
<rect x="643.90" y="339.20" width="1.6" height="1.6" fill="#000"/>
<rect x="646.00" y="346.20" width="1.6" height="1.6" fill="#000"/>
<rect x="662.30" y="335.60" width="1.6" height="1.6" fill="#000"/>
<rect x="801.00" y="303.80" width="1.6" height="1.6" fill="#000"/>
<circle cx="307.4" cy="100.1" r="1.55" fill="#ee1111"/>
<circle cx="382.4" cy="154.3" r="1.55" fill="#ee1111"/>
<circle cx="478.3" cy="156.9" r="1.55" fill="#ee1111"/>
<circle cx="523.8" cy="144.7" r="1.55" fill="#ee1111"/>
<circle cx="539.6" cy="147.5" r="1.55" fill="#ee1111"/>
<circle cx="799.2" cy="170.2" r="1.55" fill="#ee1111"/>
<circle cx="338.9" cy="167.9" r="1.55" fill="#ee1111"/>
<circle cx="346.1" cy="175.7" r="1.55" fill="#ee1111"/>
<circle cx="394.4" cy="182.2" r="1.55" fill="#ee1111"/>
<circle cx="403.1" cy="181.0" r="1.55" fill="#ee1111"/>
<circle cx="398.9" cy="186.3" r="1.55" fill="#ee1111"/>
<circle cx="401.8" cy="198.2" r="1.55" fill="#ee1111"/>
<circle cx="448.4" cy="177.7" r="1.55" fill="#ee1111"/>
<circle cx="444.5" cy="196.1" r="1.55" fill="#ee1111"/>
<circle cx="456.1" cy="200.5" r="1.55" fill="#ee1111"/>
<circle cx="466.5" cy="194.4" r="1.55" fill="#ee1111"/>
<circle cx="472.5" cy="191.6" r="1.55" fill="#ee1111"/>
<circle cx="466.5" cy="202.8" r="1.55" fill="#ee1111"/>
<circle cx="456.7" cy="217.1" r="1.55" fill="#ee1111"/>
<circle cx="431.7" cy="221.9" r="1.55" fill="#ee1111"/>
<circle cx="507.6" cy="172.5" r="1.55" fill="#ee1111"/>
<circle cx="529.8" cy="168.2" r="1.55" fill="#ee1111"/>
<circle cx="572.3" cy="177.3" r="1.55" fill="#ee1111"/>
<circle cx="488.2" cy="188.0" r="1.55" fill="#ee1111"/>
<circle cx="526.4" cy="190.5" r="1.55" fill="#ee1111"/>
<circle cx="525.2" cy="192.5" r="1.55" fill="#ee1111"/>
<circle cx="539.4" cy="197.6" r="1.55" fill="#ee1111"/>
<circle cx="567.0" cy="191.1" r="1.55" fill="#ee1111"/>
<circle cx="515.2" cy="206.5" r="1.55" fill="#ee1111"/>
<circle cx="514.3" cy="218.3" r="1.55" fill="#ee1111"/>
<circle cx="541.4" cy="217.3" r="1.55" fill="#ee1111"/>
<circle cx="526.0" cy="223.7" r="1.55" fill="#ee1111"/>
<circle cx="530.7" cy="222.1" r="1.55" fill="#ee1111"/>
<circle cx="508.2" cy="227.9" r="1.55" fill="#ee1111"/>
<circle cx="518.8" cy="228.3" r="1.55" fill="#ee1111"/>
<circle cx="581.8" cy="163.8" r="1.55" fill="#ee1111"/>
<circle cx="581.6" cy="195.5" r="1.55" fill="#ee1111"/>
<circle cx="586.6" cy="200.5" r="1.55" fill="#ee1111"/>
<circle cx="627.6" cy="197.6" r="1.55" fill="#ee1111"/>
<circle cx="589.3" cy="218.4" r="1.55" fill="#ee1111"/>
<circle cx="600.3" cy="216.2" r="1.55" fill="#ee1111"/>
<circle cx="593.6" cy="223.9" r="1.55" fill="#ee1111"/>
<circle cx="657.0" cy="215.4" r="1.55" fill="#ee1111"/>
<circle cx="682.4" cy="238.6" r="1.55" fill="#ee1111"/>
<circle cx="689.2" cy="241.8" r="1.55" fill="#ee1111"/>
<circle cx="685.0" cy="248.8" r="1.55" fill="#ee1111"/>
<circle cx="708.1" cy="249.5" r="1.55" fill="#ee1111"/>
<circle cx="717.5" cy="238.1" r="1.55" fill="#ee1111"/>
<circle cx="724.0" cy="247.3" r="1.55" fill="#ee1111"/>
<circle cx="725.3" cy="246.4" r="1.55" fill="#ee1111"/>
<circle cx="769.1" cy="215.3" r="1.55" fill="#ee1111"/>
<circle cx="807.0" cy="214.4" r="1.55" fill="#ee1111"/>
<circle cx="424.1" cy="231.8" r="1.55" fill="#ee1111"/>
<circle cx="450.1" cy="237.1" r="1.55" fill="#ee1111"/>
<circle cx="454.9" cy="236.5" r="1.55" fill="#ee1111"/>
<circle cx="463.4" cy="233.0" r="1.55" fill="#ee1111"/>
<circle cx="462.9" cy="235.7" r="1.55" fill="#ee1111"/>
<circle cx="470.4" cy="233.6" r="1.55" fill="#ee1111"/>
<circle cx="459.9" cy="240.6" r="1.55" fill="#ee1111"/>
<circle cx="479.4" cy="233.7" r="1.55" fill="#ee1111"/>
<circle cx="479.4" cy="261.6" r="1.55" fill="#ee1111"/>
<circle cx="510.5" cy="231.9" r="1.55" fill="#ee1111"/>
<circle cx="487.8" cy="253.1" r="1.55" fill="#ee1111"/>
<circle cx="510.3" cy="256.7" r="1.55" fill="#ee1111"/>
<circle cx="497.4" cy="264.6" r="1.55" fill="#ee1111"/>
<circle cx="517.9" cy="264.0" r="1.55" fill="#ee1111"/>
<circle cx="571.3" cy="235.4" r="1.55" fill="#ee1111"/>
<circle cx="566.4" cy="246.0" r="1.55" fill="#ee1111"/>
<circle cx="534.5" cy="261.1" r="1.55" fill="#ee1111"/>
<circle cx="533.0" cy="264.6" r="1.55" fill="#ee1111"/>
<circle cx="578.7" cy="263.1" r="1.55" fill="#ee1111"/>
<circle cx="588.0" cy="238.9" r="1.55" fill="#ee1111"/>
<circle cx="590.9" cy="245.9" r="1.55" fill="#ee1111"/>
<circle cx="611.4" cy="233.7" r="1.55" fill="#ee1111"/>
<circle cx="618.5" cy="244.1" r="1.55" fill="#ee1111"/>
<circle cx="626.8" cy="230.3" r="1.55" fill="#ee1111"/>
<circle cx="629.3" cy="235.4" r="1.55" fill="#ee1111"/>
<circle cx="624.5" cy="252.8" r="1.55" fill="#ee1111"/>
<circle cx="621.0" cy="255.4" r="1.55" fill="#ee1111"/>
<circle cx="628.6" cy="257.0" r="1.55" fill="#ee1111"/>
<circle cx="589.3" cy="264.3" r="1.55" fill="#ee1111"/>
<circle cx="601.8" cy="264.6" r="1.55" fill="#ee1111"/>
<circle cx="654.0" cy="230.6" r="1.55" fill="#ee1111"/>
<circle cx="646.3" cy="237.8" r="1.55" fill="#ee1111"/>
<circle cx="673.0" cy="243.9" r="1.55" fill="#ee1111"/>
<circle cx="677.8" cy="249.7" r="1.55" fill="#ee1111"/>
<circle cx="549.8" cy="272.2" r="1.55" fill="#ee1111"/>
<circle cx="576.6" cy="272.9" r="1.55" fill="#ee1111"/>
<circle cx="604.6" cy="274.1" r="1.55" fill="#ee1111"/>
<rect x="84.80" y="238.00" width="4" height="4" fill="#2a49a4"/>
<rect x="166.90" y="223.90" width="4" height="4" fill="#2a49a4"/>
<rect x="215.00" y="264.90" width="4" height="4" fill="#2a49a4"/>
<rect x="211.80" y="305.70" width="4" height="4" fill="#2a49a4"/>
<rect x="126.40" y="335.80" width="4" height="4" fill="#2a49a4"/>
<rect x="266.30" y="336.50" width="4" height="4" fill="#2a49a4"/>
<rect x="213.70" y="349.80" width="4" height="4" fill="#2a49a4"/>
<rect x="123.80" y="356.50" width="4" height="4" fill="#2a49a4"/>
<rect x="223.30" y="357.40" width="4" height="4" fill="#2a49a4"/>
<rect x="161.00" y="378.80" width="5" height="5" fill="#2a49a4"/>
<rect x="110.80" y="391.80" width="4" height="4" fill="#2a49a4"/>
<rect x="102.90" y="415.80" width="4" height="4" fill="#2a49a4"/>
<rect x="237.00" y="450.90" width="4" height="4" fill="#2a49a4"/>
<rect x="260.90" y="444.70" width="4" height="4" fill="#2a49a4"/>
<rect x="268.90" y="429.80" width="4" height="4" fill="#2a49a4"/>
<rect x="274.00" y="428.80" width="4" height="4" fill="#2a49a4"/>
<rect x="293.90" y="382.05" width="5" height="4.7" fill="#2a49a4"/>
<rect x="345.00" y="325.90" width="5" height="4.2" fill="#2a49a4"/>
<rect x="344.90" y="403.80" width="4" height="4" fill="#2a49a4"/>
<rect x="317.00" y="410.80" width="5" height="4" fill="#2a49a4"/>
<rect x="364.80" y="419.70" width="4" height="4" fill="#2a49a4"/>
<rect x="301.80" y="421.60" width="4" height="4" fill="#2a49a4"/>
<rect x="414.80" y="427.60" width="4" height="4" fill="#2a49a4"/>
<rect x="422.00" y="425.70" width="5" height="4" fill="#2a49a4"/>
<rect x="394.90" y="477.90" width="5" height="4" fill="#2a49a4"/>
<rect x="425.90" y="475.90" width="4" height="5" fill="#2a49a4"/>
<rect x="380.90" y="492.80" width="4" height="4" fill="#2a49a4"/>
<rect x="489.00" y="410.90" width="4" height="4" fill="#2a49a4"/>
<rect x="352.3" y="266.2" width="9.4" height="9.8" fill="#0e8b43"/>
<rect x="365.3" y="280.2" width="9.4" height="9.8" fill="#0e8b43"/>
<rect x="410.8" y="251.1" width="9.4" height="9.8" fill="#0e8b43"/>
<rect x="421.8" y="260.1" width="9.4" height="9.8" fill="#0e8b43"/>
<rect x="468.2" y="254.0" width="9.4" height="9.8" fill="#0e8b43"/>
<rect x="501.3" y="320.0" width="9.4" height="9.8" fill="#0e8b43"/>
<rect x="515.3" y="348.6" width="9.4" height="9.8" fill="#0e8b43"/>
<rect x="605.3" y="310.1" width="9.4" height="9.8" fill="#0e8b43"/>
<polyline fill="none" stroke="#000" stroke-width="2.4" stroke-linejoin="round" points="68.6,106.4 78.8,111.5 87.2,117.5 95.7,124.4 101.7,129.6 114.2,141.7 138.2,158 150,165.6 166.9,178.8 204.6,209.3 230.9,227.8 249.8,240 280.4,263.7 314,288.9 346.5,310.8 376.6,330.6 433,371 449.2,382.8 462.5,394.9 491.3,412.9 538.2,445.3 560,456.7 581.9,466.8 615.5,473.6 649.2,478.3 677.8,479.4 700,479.8 740,479.9 796.4,479.6 829.5,477.1"/>
<text x="300.1" y="264.4" font-size="16">V803 Cen</text>
<text x="387.6" y="247.8" font-size="16">HP Lib</text>
<text x="468.4" y="248.8" font-size="16">SDSS J0651</text>
<text x="430.6" y="288.7" font-size="16">AM CVn</text>
<text x="347.7" y="304.8" font-size="16">CR Boo</text>
<text x="451" y="342.8" font-size="16">ES Cet</text>
<text x="531" y="373.9" font-size="16">V407 Vul</text>
<text x="622" y="328" font-size="16">HM Cnc</text>
</svg>
</body></html>
